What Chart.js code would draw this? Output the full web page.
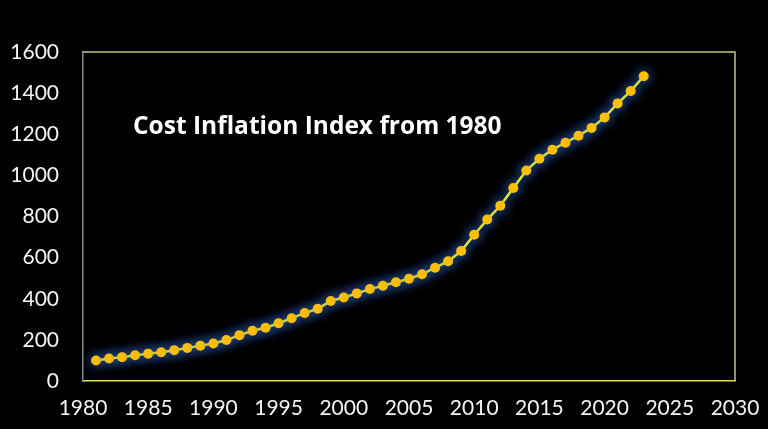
<!DOCTYPE html>
<html>
<head>
<meta charset="utf-8">
<script src="https://cdn.jsdelivr.net/npm/chart.js@4.4.1/dist/chart.umd.min.js"></script>
<style>
  html, body { margin: 0; padding: 0; background: #000; }
  #wrap { position: relative; width: 768px; height: 429px; }
  #title {
    position: absolute; left: 133px; top: 108px;
    color: #fff; font: bold 24.5px "Open Sans", Lato, sans-serif;
    white-space: nowrap;
  }
</style>
</head>
<body>
<div id="wrap">
  <canvas id="cii-chart" width="768" height="429"></canvas>
  <div id="title">Cost Inflation Index from 1980</div>
</div>
<script>
// Financial years (start year) and the Cost Inflation Index values
const years = [
    1981, 1982, 1983, 1984, 1985, 1986, 1987, 1988, 1989, 1990,
    1991, 1992, 1993, 1994, 1995, 1996, 1997, 1998, 1999, 2000,
    2001, 2002, 2003, 2004, 2005, 2006, 2007, 2008, 2009, 2010,
    2011, 2012, 2013, 2014, 2015, 2016, 2017, 2018, 2019, 2020,
    2021, 2022, 2023
];
const ciiValues = [
    100, 109, 116, 125, 133, 140, 150, 161, 172, 182,
    199, 223, 244, 259, 281, 305, 331, 351, 389, 406,
    426, 447, 463, 480, 497, 519, 551, 582, 632, 711,
    785, 852, 939, 1024, 1081, 1125, 1159, 1193, 1231, 1282,
    1350, 1410, 1482
];
const xMin = 1980, xMax = 2030, xStep = 5;
const yMin = 0, yMax = 1600, yStep = 200;

const tickFont = { family: 'Lato, "Open Sans", sans-serif', size: 21 };

// Soft blue glow behind the line and markers
const glowPlugin = {
    id: 'glow',
    beforeDatasetsDraw: function (chart) {
        const ctx = chart.ctx;
        ctx.save();
        ctx.shadowColor = 'rgba(60, 120, 235, 1)';
        ctx.shadowBlur = 12;
    },
    afterDatasetsDraw: function (chart) {
        chart.ctx.restore();
    }
};

// Top and right edges of the plot frame
const framePlugin = {
    id: 'frame',
    afterDraw: function (chart) {
        const a = chart.chartArea;
        const ctx = chart.ctx;
        ctx.save();
        ctx.strokeStyle = '#c4c47a';
        ctx.lineWidth = 1.5;
        ctx.beginPath();
        ctx.moveTo(a.left, a.top);
        ctx.lineTo(a.right, a.top);
        ctx.lineTo(a.right, a.bottom);
        ctx.stroke();
        ctx.restore();
    }
};

const ctx = document.getElementById('cii-chart').getContext('2d');
new Chart(ctx, {
    type: 'line',
    data: {
        datasets: [{
            label: 'Cost Inflation Index',
            data: years.map((yr, i) => ({ x: yr, y: ciiValues[i] })),
            borderColor: '#ffff10',
            borderWidth: 2.5,
            pointBackgroundColor: '#ffc000',
            pointBorderColor: '#ffc000',
            pointRadius: 5,
            pointBorderWidth: 0,
            tension: 0,
            fill: false
        }]
    },
    options: {
        responsive: false,
        animation: false,
        layout: { padding: { top: 52, right: 33, left: 0, bottom: 0 } },
        plugins: {
            legend: { display: false },
            tooltip: { enabled: false }
        },
        scales: {
            x: {
                type: 'linear',
                min: xMin,
                max: xMax,
                grid: { display: false, drawTicks: false },
                border: { display: true, color: '#e4e45a', width: 1.5 },
                ticks: {
                    stepSize: xStep,
                    color: '#f4f4f4',
                    font: tickFont,
                    padding: 15,
                    maxRotation: 0,
                    callback: v => String(v)
                },
                afterFit: function (scale) {
                    scale.height = 48;
                    scale.paddingLeft = 0;
                    scale.paddingRight = 0;
                }
            },
            y: {
                min: yMin,
                max: yMax,
                grid: { display: false, drawTicks: false },
                border: { display: true, color: '#8a8a8a', width: 1.5 },
                ticks: {
                    stepSize: yStep,
                    color: '#f4f4f4',
                    font: tickFont,
                    padding: 24,
                    callback: v => String(v)
                },
                afterFit: function (scale) {
                    scale.width = 83;
                    scale.paddingTop = 0;
                    scale.paddingBottom = 0;
                }
            }
        }
    },
    plugins: [glowPlugin, framePlugin]
});
</script>
</body>
</html>
